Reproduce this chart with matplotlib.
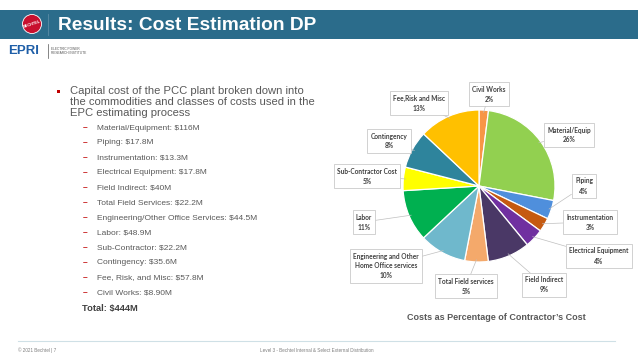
"""
Results: Cost Estimation DP - capital cost breakdown slide (pie + bullet list)
"""
import matplotlib
matplotlib.use("Agg")
import matplotlib.pyplot as plt
import numpy as np
from matplotlib.patches import Rectangle, Circle

# data
categories = ["Civil Works", "Material/Equip", "Piping", "Instrumentation",
              "Electrical Equipment", "Field Indirect", "Total Field services",
              "Engineering and Other\nHome Office services", "Labor",
              "Sub-Contractor Cost", "Contingency", "Fee,Risk and Misc"]
costs_musd = [8.9, 116, 17.8, 13.3, 17.8, 40, 22.2, 44.5, 48.9, 22.2, 35.6, 57.8]
pct_labels = ["2%", "26%", "4%", "3%", "4%", "9%", "5%", "10%", "11%", "5%", "8%", "13%"]
slice_colors = ["#f79646", "#92d050", "#4f8fdc", "#c55a11", "#7030a0", "#4a3866",
                "#f4a96b", "#6fb8cc", "#00b050", "#ffff00", "#2e849c", "#ffc000"]

bullet_items = ["Material/Equipment: $116M", "Piping: $17.8M", "Instrumentation: $13.3M",
                "Electrical Equipment: $17.8M", "Field Indirect: $40M",
                "Total Field Services: $22.2M", "Engineering/Other Office Services: $44.5M",
                "Labor: $48.9M", "Sub-Contractor: $22.2M", "Contingency: $35.6M",
                "Fee, Risk, and Misc: $57.8M", "Civil Works: $8.90M"]
total_label = "Total: $444M"

# label box centres (pixels, y down) - layout only
label_pos = [(489, 94), (569, 135), (584, 186), (590, 222), (599, 256), (544, 285),
             (466, 286), (386, 266), (364, 222), (367, 176), (389, 141), (419, 103)]

W, H = 638, 359
fig = plt.figure(figsize=(W / 100, H / 100), dpi=100)
ax = fig.add_axes([0, 0, 1, 1])
ax.set_xlim(0, W)
ax.set_ylim(0, H)
ax.axis("off")


def Y(y):
    return H - y


# header band
ax.add_patch(Rectangle((0, Y(39)), W, 29, facecolor="#2b6c8b", edgecolor="none"))
ax.text(58, Y(25), "Results: Cost Estimation DP", color="white", fontsize=13.8,
        fontweight="bold", family="Liberation Sans", va="center", ha="left")
ax.add_patch(Circle((32, Y(24)), 9.5, facecolor="#c8102e", edgecolor="white", lw=0.6))
ax.text(32, Y(24), "BECHTEL", color="white", fontsize=2.8, fontweight="bold",
        rotation=18, ha="center", va="center", family="Liberation Sans")
ax.plot([48, 48], [Y(14), Y(35)], color="#5a8ca6", lw=0.6)

# EPRI logo
ax.text(8, Y(51), "EPRI", color="#1f5fa8", fontsize=9.5, fontweight="bold",
        family="Liberation Sans", ha="left", va="center")
ax.plot([48, 48], [Y(44), Y(58)], color="#555555", lw=0.5)
ax.text(51, Y(48.5), "ELECTRIC POWER", color="#555555", fontsize=2.3,
        family="Liberation Sans", ha="left", va="center")
ax.text(51, Y(53), "RESEARCH INSTITUTE", color="#555555", fontsize=2.3,
        family="Liberation Sans", ha="left", va="center")

# bullet text
txt = "#595959"
ax.add_patch(Rectangle((57, Y(93)), 3.2, 3.2, facecolor="#c00000", edgecolor="none"))
main_lines = ["Capital cost of the PCC plant broken down into",
              "the commodities and classes of costs used in the",
              "EPC estimating process"]
for i, line in enumerate(main_lines):
    ax.text(70, Y(91 + 11 * i), line, color=txt, fontsize=8.1,
            family="Liberation Sans", ha="left", va="center", linespacing=1)
for i, item in enumerate(bullet_items):
    y = Y(128 + 15 * i)
    ax.text(83, y, "\u2013", color="#c00000", fontsize=6, fontweight="bold",
            family="Liberation Sans", ha="left", va="center")
    ax.text(97, y, item, color=txt, fontsize=6.0, family="Liberation Sans",
            ha="left", va="center")
ax.text(82, Y(308), total_label, color="#404040", fontsize=6.7, fontweight="bold",
        family="Liberation Sans", ha="left", va="center")

# pie
cx, cy, r = 479, Y(186), 76
wedges, _ = ax.pie(costs_musd, colors=slice_colors, startangle=90, counterclock=False,
                   center=(cx, cy), radius=r,
                   wedgeprops=dict(edgecolor="white", linewidth=0.9))
ax.set_xlim(0, W)
ax.set_ylim(0, H)
ax.set_aspect("auto")
ax.axis("off")

for w, name, pct, (lx, ly) in zip(wedges, categories, pct_labels, label_pos):
    ang = np.deg2rad((w.theta1 + w.theta2) / 2)
    px, py = cx + 0.97 * r * np.cos(ang), cy + 0.97 * r * np.sin(ang)
    ax.annotate(f"{name}\n{pct}", xy=(px, py), xytext=(lx, Y(ly)),
                ha="center", va="center", fontsize=4.7, fontweight="bold",
                family="Lato", color="#404040", linespacing=1.5,
                bbox=dict(boxstyle="square,pad=0.5", facecolor="white",
                          edgecolor="#bfbfbf", lw=0.5),
                arrowprops=dict(arrowstyle="-", color="#bfbfbf", lw=0.5,
                                shrinkA=0, shrinkB=0))

ax.text(496, Y(317), "Costs as Percentage of Contractor\u2019s Cost", color=txt,
        fontsize=6.5, fontweight="bold", family="Liberation Sans", ha="center", va="center")

# footer
ax.plot([18, 615], [Y(341), Y(341)], color="#cfe0e6", lw=0.8)
ax.text(18, Y(350), "\u00a9 2021 Bechtel | 7", color="#7f7f7f", fontsize=3.3,
        family="Liberation Sans", ha="left", va="center")
ax.text(260, Y(350), "Level 3 - Bechtel Internal & Select External Distribution",
        color="#7f7f7f", fontsize=3.3, family="Liberation Sans", ha="left", va="center")

fig.savefig("out.png", dpi=100)
